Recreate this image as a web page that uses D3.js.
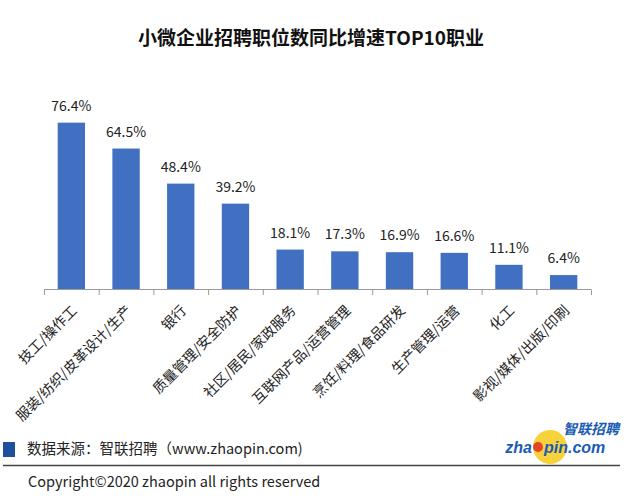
<!DOCTYPE html>
<html>
<head>
<meta charset="utf-8">
<script src="https://cdn.jsdelivr.net/npm/d3@7"></script>
<style>
  body { margin: 0; background: #fff; }
  svg { font-family: "Noto Sans CJK SC", "Noto Sans", sans-serif; }
</style>
</head>
<body>
<div id="chart"></div>
<script>
const categories = ['技工/操作工', '服装/纺织/皮革设计/生产', '银行', '质量管理/安全防护', '社区/居民/家政服务',
    '互联网产品/运营管理', '烹饪/料理/食品研发', '生产管理/运营', '化工', '影视/媒体/出版/印刷'];
const growth = [76.4, 64.5, 48.4, 39.2, 18.1, 17.3, 16.9, 16.6, 11.1, 6.4];

const width = 640, height = 500;
const svg = d3.select('#chart').append('svg')
    .attr('width', width)
    .attr('height', height);

// title
svg.append('text')
    .attr('x', 311)
    .attr('y', 45)
    .attr('text-anchor', 'middle')
    .attr('font-size', '19px')
    .attr('font-weight', 'bold')
    .attr('fill', '#111')
    .text('小微企业招聘职位数同比增速TOP10职业');

const x = d3.scaleBand()
    .domain(categories)
    .range([44, 591])
    .paddingInner(0.5)
    .paddingOuter(0.25);

const y = d3.scaleLinear()
    .domain([0, 80])
    .range([289, 289 - 174.2]);

svg.selectAll('.bar')
    .data(growth)
    .enter().append('rect')
    .attr('class', 'bar')
    .attr('x', (d, i) => x(categories[i]))
    .attr('y', d => y(d))
    .attr('width', x.bandwidth())
    .attr('height', d => y(0) - y(d))
    .attr('fill', '#4170c2');

svg.selectAll('.val')
    .data(growth)
    .enter().append('text')
    .attr('class', 'val')
    .attr('x', (d, i) => x(categories[i]) + x.bandwidth() / 2)
    .attr('y', d => y(d) - 12)
    .attr('text-anchor', 'middle')
    .attr('font-size', '14px')
    .attr('fill', '#222')
    .text(d => d.toFixed(1) + '%');

// x axis, ticks between bands
const step = x.step();
const axis = svg.append('g');
axis.append('line')
    .attr('x1', 44).attr('x2', 591)
    .attr('y1', 289.5).attr('y2', 289.5)
    .attr('stroke', '#9a9a9a');
axis.selectAll('.tick')
    .data(d3.range(categories.length + 1))
    .enter().append('line')
    .attr('x1', i => 44 + i * step + 0.5)
    .attr('x2', i => 44 + i * step + 0.5)
    .attr('y1', 289.5).attr('y2', 295)
    .attr('stroke', '#9a9a9a');

svg.selectAll('.cat')
    .data(categories)
    .enter().append('text')
    .attr('class', 'cat')
    .attr('transform', d => `translate(${x(d) + x.bandwidth() / 2 + 3},${308}) rotate(-45)`)
    .attr('text-anchor', 'end')
    .attr('dy', '0.35em')
    .attr('font-size', '14px')
    .attr('fill', '#222')
    .text(d => d);

// footer
svg.append('rect')
    .attr('x', 3).attr('y', 442)
    .attr('width', 12).attr('height', 15)
    .attr('fill', '#1d4f9e');
svg.append('text')
    .attr('x', 27).attr('y', 454)
    .attr('font-size', '14.5px')
    .attr('fill', '#222')
    .text('数据来源：智联招聘（www.zhaopin.com)');
svg.append('line')
    .attr('x1', 3).attr('x2', 620)
    .attr('y1', 465.5).attr('y2', 465.5)
    .attr('stroke', '#444')
    .attr('stroke-width', 1.5);
svg.append('text')
    .attr('x', 28).attr('y', 487)
    .attr('font-size', '14.5px')
    .attr('fill', '#222')
    .text('Copyright©2020 zhaopin all rights reserved');

// logo
const logo = svg.append('g');
logo.append('circle')
    .attr('cx', 550).attr('cy', 447).attr('r', 17)
    .attr('fill', '#f7d23a');
logo.append('text')
    .attr('x', 619).attr('y', 434)
    .attr('text-anchor', 'end')
    .attr('font-size', '14px')
    .attr('font-weight', 'bold')
    .attr('font-style', 'italic')
    .attr('fill', '#1a5bb5')
    .text('智联招聘');
logo.append('text')
    .attr('x', 532).attr('y', 453)
    .attr('text-anchor', 'end')
    .attr('font-family', 'Liberation Sans, Arial, sans-serif')
    .attr('font-size', '16px')
    .attr('font-weight', 'bold')
    .attr('font-style', 'italic')
    .attr('fill', '#1a5bb5')
    .text('zha');
logo.append('text')
    .attr('x', 544).attr('y', 453)
    .attr('font-family', 'Liberation Sans, Arial, sans-serif')
    .attr('font-size', '16px')
    .attr('font-weight', 'bold')
    .attr('font-style', 'italic')
    .attr('fill', '#1a5bb5')
    .text('pin.com');
logo.append('circle')
    .attr('cx', 538).attr('cy', 447).attr('r', 5)
    .attr('fill', '#e2452a');
</script>
</body>
</html>
